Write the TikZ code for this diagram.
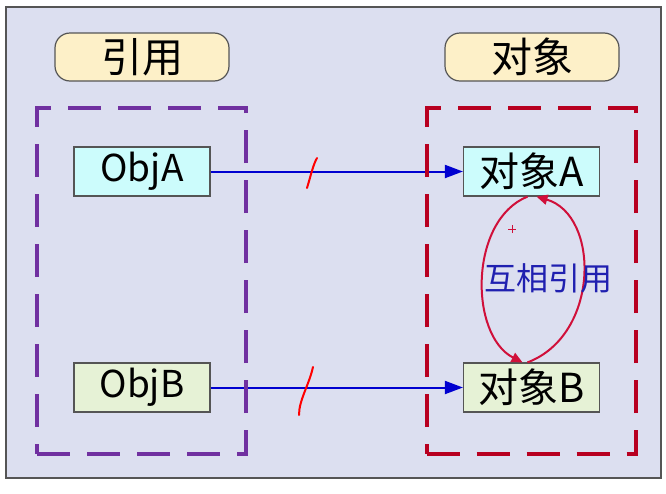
\documentclass[tikz,border=0pt]{standalone}
\usepackage{fontspec}
\setmainfont{Noto Sans CJK SC}
\usetikzlibrary{arrows.meta}
\definecolor{bgfill}{HTML}{DCDFF0}
\definecolor{bgline}{HTML}{555555}
\definecolor{cream}{HTML}{FDF0C8}
\definecolor{purp}{HTML}{7030A0}
\definecolor{dred}{HTML}{B80020}
\definecolor{cyanfill}{HTML}{CCFCFC}
\definecolor{greenfill}{HTML}{E6F2D6}
\definecolor{arrblue}{HTML}{0000D0}
\definecolor{loopred}{HTML}{D0103A}
\definecolor{txtblue}{HTML}{2020B0}
\tikzset{
  x=1pt,y=-1pt,
  title/.style={draw=bgline,line width=1.2pt,fill=cream,rounded corners=15pt,minimum width=174pt,minimum height=48pt,inner sep=0pt,font=\fontsize{41}{44}\selectfont},
  objbox/.style={draw=bgline,line width=1.2pt,minimum width=136pt,minimum height=49pt,inner sep=0pt},
  latin/.style={font=\fontsize{37}{40}\selectfont},
  cjk/.style={font=\fontsize{40}{44}\selectfont},
  group/.style={line width=4pt,dash pattern=on 33pt off 17pt,minimum width=209pt,minimum height=346pt,inner sep=0pt},
  link/.style={arrblue,line width=2pt,-{Triangle[length=18pt,width=13pt]}},
  loop/.style={loopred,line width=2pt,-{Triangle[length=11pt,width=10pt]}},
  scratch/.style={red,line width=2pt,line cap=round},
}
\begin{document}
\begin{tikzpicture}
\useasboundingbox (0,0) rectangle (666,493);
\fill[white] (0,0) rectangle (666,493);
\draw[bgline,line width=1.5pt,fill=bgfill] (6,7) rectangle (661,478);
\node[title] (tref) at (142,57) {引用};
\node[title] (tobj) at (532,57) {对象};
\node[objbox,latin,fill=cyanfill] (objA) at (142,171.5) {ObjA};
\node[objbox,latin,fill=greenfill] (objB) at (142,387.5) {ObjB};
\node[objbox,cjk,fill=cyanfill] (dA) at (531.5,171.5) {对象A};
\node[objbox,cjk,fill=greenfill] (dB) at (531.5,387.5) {对象B};
\draw[link] (objA.east) -- (dA.west);
\draw[link] (objB.east) -- (dB.west);
\node[group,draw=purp] (grefs) at (141.5,281) {};
\node[group,draw=dred] (gobjs) at (531,281) {};
\draw[loop] (dA.south) ++(-4,0) .. controls (469,220) and (469,335) .. ([xshift=-9pt]dB.north);
\draw[loop] ([xshift=-4pt]dB.north) .. controls (600,335) and (600,215) .. ([xshift=5pt]dA.south);
\node[font=\fontsize{32}{36}\selectfont,text=txtblue] (mut) at (548,278) {互相引用};
\coordinate (s1a) at (307,188);
\coordinate (s1b) at (317,158);
\draw[scratch] (s1a) .. controls (311,175) and (313,165) .. (s1b);
\coordinate (s2a) at (299,415);
\coordinate (s2b) at (313,367);
\draw[scratch] (s2a) .. controls (299,400) and (309,385) .. (s2b);
\coordinate (plus) at (512,229);
\draw[loopred,line width=1pt] ([xshift=-4pt]plus) -- ([xshift=4pt]plus) ([yshift=-4pt]plus) -- ([yshift=4pt]plus);
\end{tikzpicture}
\end{document}
